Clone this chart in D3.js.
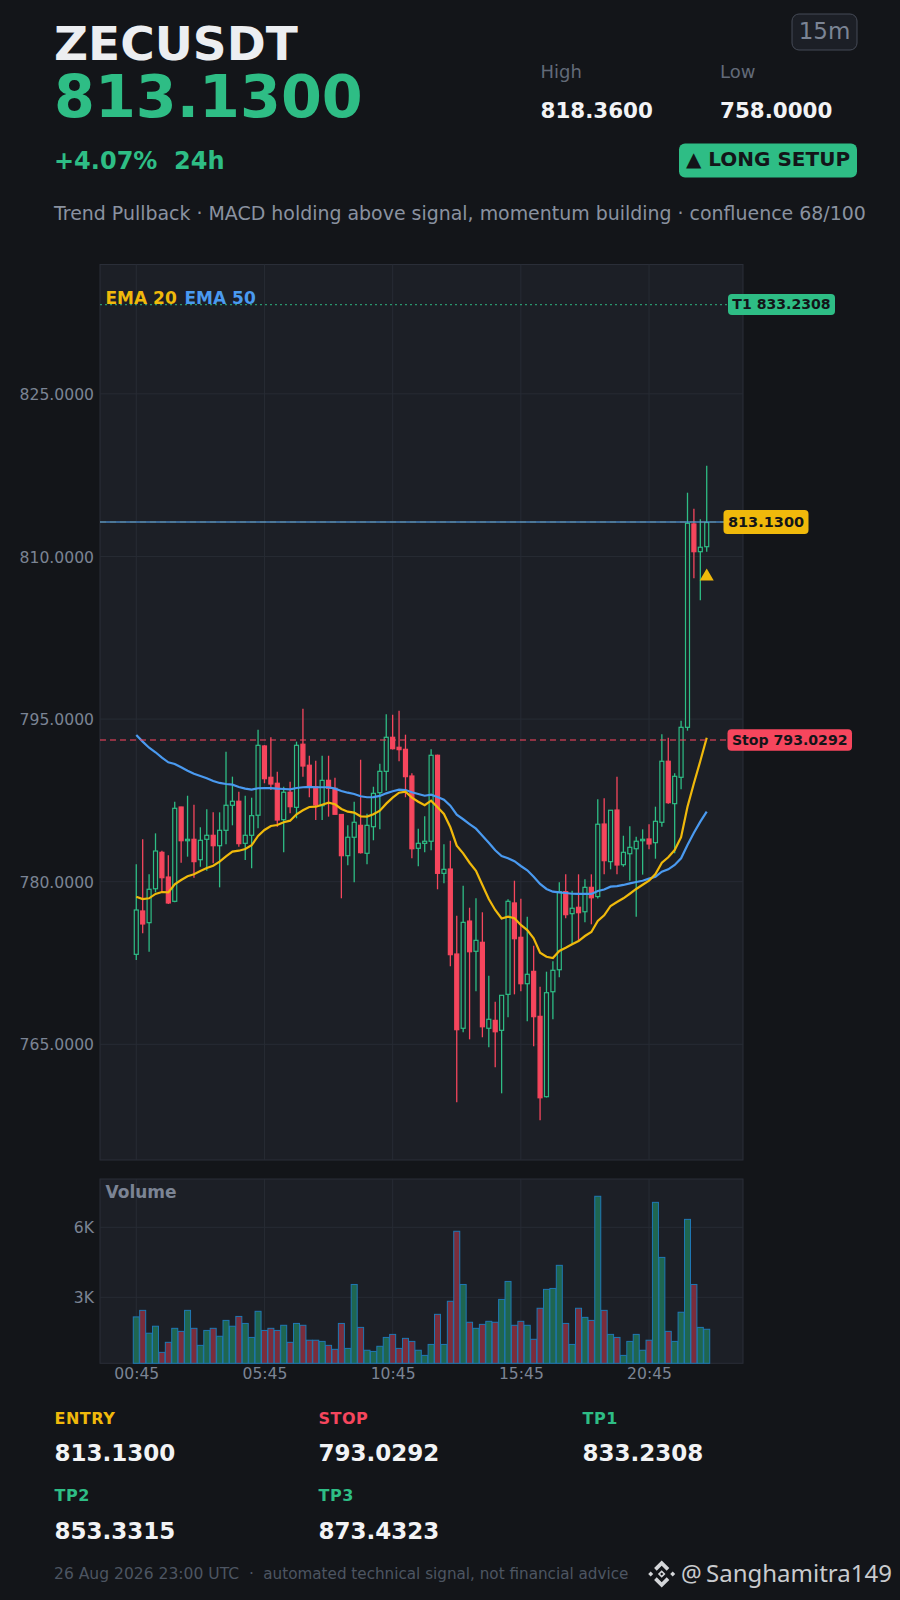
<!DOCTYPE html>
<html>
<head>
<meta charset="utf-8">
<script src="https://cdn.jsdelivr.net/npm/d3@7"></script>
<style>
html, body { margin: 0; padding: 0; background: #131519; }
svg { display: block; }
text { font-family: "DejaVu Sans", sans-serif; }
</style>
</head>
<body>
<svg id="chart" width="900" height="1600"></svg>
<script>
// OHLC of the 15m candles, oldest first
var opens = [773.30,777.30,776.22,779.35,782.71,780.43,778.19,786.89,783.78,783.91,
    782.03,783.91,784.28,783.32,784.74,787.05,787.42,783.54,784.28,786.13,
    792.52,789.63,789.08,785.72,788.25,786.86,792.68,790.74,788.76,787.01,
    789.35,788.62,786.20,782.40,784.10,785.20,782.62,785.07,788.21,790.18,
    793.32,792.40,792.21,789.75,783.08,783.54,783.73,791.66,780.77,781.17,
    773.33,766.48,776.37,773.58,774.41,766.48,767.21,766.29,769.61,778.04,
    774.87,770.59,771.73,767.58,760.17,769.85,771.88,779.08,777.05,777.64,
    777.23,779.48,778.63,785.32,781.85,786.61,781.57,782.58,783.04,783.78,
    783.94,783.60,785.48,791.11,787.20,789.63,794.24,813.00,810.44,810.90];
var highs = [781.61,783.91,780.68,784.46,782.86,782.44,787.38,786.92,787.93,787.10,
    785.02,786.68,786.40,786.40,791.99,789.69,788.30,787.93,787.75,794.02,
    792.60,793.32,790.15,788.76,789.23,792.92,795.96,791.62,791.16,791.62,
    791.62,789.59,786.22,785.20,787.38,791.25,786.27,788.76,790.89,795.44,
    795.41,795.77,793.56,790.00,784.89,786.03,792.21,791.72,783.45,783.78,
    776.86,779.63,777.60,778.47,777.18,771.33,768.93,769.55,778.38,780.09,
    778.43,776.77,774.10,770.31,771.70,772.66,779.94,780.68,779.17,780.68,
    780.22,780.68,787.60,787.69,786.61,789.69,784.24,785.11,784.15,784.83,
    785.30,786.92,793.60,793.28,790.00,794.85,815.88,814.41,813.43,818.36];
var lows = [772.78,775.24,773.54,779.02,779.08,777.94,778.10,781.75,782.31,780.37,
    781.38,781.01,781.70,779.48,783.45,785.20,783.23,782.00,781.24,784.93,
    789.08,788.46,785.07,782.71,786.31,785.85,789.69,787.79,785.69,785.69,
    786.00,786.20,778.47,781.51,779.94,782.60,781.61,783.82,784.83,788.39,
    792.20,791.11,787.79,782.16,781.42,782.71,782.90,779.30,779.85,772.20,
    759.65,766.11,765.46,769.89,765.65,764.72,762.88,760.48,767.49,769.61,
    769.89,767.12,764.82,758.00,760.10,767.31,771.18,776.62,774.16,774.62,
    776.25,776.07,778.45,780.68,781.14,780.68,781.38,780.09,776.77,780.65,
    782.99,782.12,785.07,787.20,782.62,788.52,793.93,807.99,805.96,810.44];
var closes = [777.39,776.10,779.30,782.83,780.37,778.04,786.77,783.78,783.91,781.85,
    783.82,784.28,783.32,784.74,787.05,787.42,783.51,784.28,786.09,792.58,
    789.50,789.01,785.69,788.25,786.92,792.58,790.67,788.76,787.08,789.35,
    788.62,786.22,782.40,784.10,785.48,782.68,785.20,788.15,790.18,793.32,
    792.27,792.18,789.69,783.04,783.54,783.73,791.66,780.77,781.14,773.27,
    766.35,776.25,773.54,774.59,766.62,767.31,766.16,769.52,778.19,774.74,
    770.59,771.46,767.55,760.07,769.76,771.83,779.08,776.96,777.55,777.14,
    779.48,778.52,785.30,781.94,786.59,781.54,782.71,783.17,783.73,783.91,
    783.48,785.57,791.11,787.29,789.72,794.24,813.06,810.44,810.85,813.13];
var volumes = [2160,2440,1460,1760,640,1070,1670,1540,2440,1670,
    940,1580,1670,1330,2010,1760,2180,1880,1280,2400,
    1580,1670,1580,1800,1070,1880,1800,1160,1160,1110,
    940,770,1880,810,3550,1710,730,680,900,1280,
    1410,810,1240,1110,730,510,980,2270,980,2830,
    5830,3550,1930,1670,1840,1970,1930,2910,3680,1800,
    1970,1800,1200,2530,3340,3380,4370,1880,980,2530,
    2140,2010,7330,2440,1410,1280,510,1110,1410,730,
    1160,7070,4710,1540,1110,2360,6340,3550,1710,1630];
var ema20 = [778.62,778.40,778.47,778.87,779.05,779.02,779.76,780.16,780.50,780.68,
    780.99,781.26,781.48,781.85,782.34,782.77,782.86,783.02,783.36,784.22,
    784.77,785.14,785.23,785.48,785.63,786.22,786.59,786.89,786.92,787.10,
    787.29,787.14,786.71,786.46,786.37,786.03,786.00,786.22,786.55,787.20,
    787.75,788.21,788.30,787.75,787.38,787.05,787.47,786.86,786.25,785.02,
    783.32,782.62,781.75,781.01,779.70,778.40,777.39,776.61,776.77,776.63,
    776.01,775.54,774.78,773.45,773.08,772.96,773.61,773.91,774.23,774.53,
    774.99,775.36,776.37,776.90,777.76,778.13,778.47,778.89,779.33,779.72,
    780.09,780.71,781.75,782.25,782.92,784.10,786.92,789.08,791.13,793.28];
var ema50 = [793.53,792.92,792.36,791.94,791.44,791.01,790.86,790.55,790.24,789.96,
    789.75,789.54,789.29,789.11,789.01,788.95,788.74,788.58,788.49,788.62,
    788.64,788.64,788.58,788.55,788.52,788.64,788.71,788.74,788.71,788.71,
    788.71,788.58,788.37,788.21,788.09,787.88,787.79,787.81,787.91,788.15,
    788.34,788.49,788.46,788.25,788.09,787.93,788.03,787.81,787.56,787.01,
    786.18,785.76,785.32,784.89,784.24,783.60,782.90,782.37,782.16,781.89,
    781.45,781.05,780.46,779.79,779.33,779.08,779.02,778.96,778.89,778.87,
    778.87,778.87,779.14,779.28,779.54,779.60,779.70,779.85,779.97,780.09,
    780.28,780.46,780.92,781.14,781.54,782.16,783.39,784.52,785.54,786.46];

var priceTicks = [765, 780, 795, 810, 825];
var volumeTicks = [3000, 6000];
var timeTickIndex = [0, 20, 40, 60, 80];
var timeTickLabels = ["00:45", "05:45", "10:45", "15:45", "20:45"];

var entry = 813.13;
var stop = 793.0292;
var tp1 = 833.2308;
var signalMarker = 808.15;

var levelRows = [
    { label: "ENTRY", value: "813.1300", color: "#f0b90b", col: 0, row: 0 },
    { label: "STOP", value: "793.0292", color: "#f6465d", col: 1, row: 0 },
    { label: "TP1", value: "833.2308", color: "#2ebd85", col: 2, row: 0 },
    { label: "TP2", value: "853.3315", color: "#2ebd85", col: 0, row: 1 },
    { label: "TP3", value: "873.4323", color: "#2ebd85", col: 1, row: 1 }
];

var panel = "#1c1f26", grid = "#272b34", border = "#2a2e38";
var green = "#2ebd85", red = "#f6465d", amber = "#f0b90b", blue = "#4a9af0";
var muted = "#7b8494", dark = "#131519", white = "#f2f3f5";

var svg = d3.select("#chart");

function label(g, x, y, str, size, color, weight, anchor) {
    return g.append("text")
        .attr("x", x)
        .attr("y", y)
        .attr("font-size", size)
        .attr("fill", color)
        .attr("font-weight", weight || "normal")
        .attr("text-anchor", anchor || "start")
        .text(str);
}

// Header
label(svg, 54, 60, "ZECUSDT", 47, "#eceef1", "bold");
label(svg, 54, 116.7, "813.1300", 58.8, green, "bold");
label(svg, 54, 169, "+4.07%\u00a0\u00a024h", 24, green, "bold");
label(svg, 540.5, 78, "High", 18, "#626a78");
label(svg, 720, 78, "Low", 18, "#626a78");
label(svg, 540.5, 118, "818.3600", 21.4, white, "bold");
label(svg, 720, 118, "758.0000", 21.4, white, "bold");

svg.append("rect").attr("x", 792).attr("y", 14).attr("width", 65).attr("height", 36).attr("rx", 7)
    .attr("fill", panel).attr("stroke", "#454a56");
label(svg, 824.5, 38.5, "15m", 23, muted, "normal", "middle");

svg.append("rect").attr("x", 679).attr("y", 143.5).attr("width", 178).attr("height", 34).attr("rx", 6)
    .attr("fill", green);
label(svg, 768, 166, "\u25b2 LONG SETUP", 20, dark, "bold", "middle");

label(svg, 54, 219.5, "Trend Pullback \u00b7 MACD holding above signal, momentum building \u00b7 confluence 68/100", 18.95, "#8a92a0");

// Scales
var x = d3.scaleLinear().domain([-5.66, 94.66]).range([100, 743]);
var y = d3.scaleLinear().domain([754.33, 836.93]).range([1160, 264.5]);
var yVol = d3.scaleLinear().domain([171, 8071]).range([1363.3, 1179]);

var candles = d3.range(opens.length).map(function (i) {
    return { i: i, open: opens[i], high: highs[i], low: lows[i], close: closes[i], volume: volumes[i], up: closes[i] >= opens[i] };
});

// Price panel
var main = svg.append("g");
main.append("rect").attr("x", 100).attr("y", 264.5).attr("width", 643).attr("height", 895.5)
    .attr("fill", panel).attr("stroke", border);

main.selectAll(".gridY").data(priceTicks).enter().append("line")
    .attr("class", "gridY")
    .attr("x1", 100).attr("x2", 743)
    .attr("y1", function (d) { return y(d); }).attr("y2", function (d) { return y(d); })
    .attr("stroke", grid);
main.selectAll(".gridX").data(timeTickIndex).enter().append("line")
    .attr("class", "gridX")
    .attr("x1", function (d) { return x(d); }).attr("x2", function (d) { return x(d); })
    .attr("y1", 264.5).attr("y2", 1160)
    .attr("stroke", grid);

var yAxis = d3.axisLeft(y)
    .tickValues(priceTicks)
    .tickSize(0)
    .tickPadding(6)
    .tickFormat(function (d) { return d.toFixed(4); });
var yAxisG = main.append("g").attr("transform", "translate(100,0.6)").call(yAxis);
yAxisG.select(".domain").remove();
yAxisG.selectAll("text").attr("font-size", 15.6).style("fill", muted);

// Wicks, then bodies
main.selectAll(".wick").data(candles).enter().append("line")
    .attr("class", "wick")
    .attr("x1", function (d) { return x(d.i); }).attr("x2", function (d) { return x(d.i); })
    .attr("y1", function (d) { return y(d.high); }).attr("y2", function (d) { return y(d.low); })
    .attr("stroke", function (d) { return d.up ? green : red; })
    .attr("stroke-width", 1.3);
main.selectAll(".body").data(candles).enter().append("rect")
    .attr("class", "body")
    .attr("x", function (d) { return x(d.i) - 2; })
    .attr("width", 4)
    .attr("y", function (d) { return y(Math.max(d.open, d.close)); })
    .attr("height", function (d) { return Math.max(0.8, Math.abs(y(d.open) - y(d.close))); })
    .attr("fill", function (d) { return d.up ? panel : red; })
    .attr("stroke", function (d) { return d.up ? green : red; })
    .attr("stroke-width", 1.2);

// EMA lines
var emaLine = d3.line()
    .x(function (d, i) { return x(i); })
    .y(function (d) { return y(d); });
main.append("path").attr("d", emaLine(ema50)).attr("fill", "none").attr("stroke", blue).attr("stroke-width", 2.2);
main.append("path").attr("d", emaLine(ema20)).attr("fill", "none").attr("stroke", amber).attr("stroke-width", 2.2);

label(main, 105.5, 303.5, "EMA 20", 17, amber, "bold");
label(main, 184.5, 303.5, "EMA 50", 17, blue, "bold");

// Level lines
main.append("line").attr("x1", 100).attr("x2", 728).attr("y1", y(tp1)).attr("y2", y(tp1))
    .attr("stroke", green).attr("stroke-opacity", 0.75).attr("stroke-width", 1.3).attr("stroke-dasharray", "2,3");
main.append("line").attr("x1", 100).attr("x2", 727).attr("y1", y(stop) - 0.5).attr("y2", y(stop) - 0.5)
    .attr("stroke", red).attr("stroke-opacity", 0.7).attr("stroke-width", 1.5).attr("stroke-dasharray", "6,4");
main.append("line").attr("x1", 100).attr("x2", 724).attr("y1", y(entry) - 0.5).attr("y2", y(entry) - 0.5)
    .attr("stroke", amber).attr("stroke-opacity", 0.35).attr("stroke-width", 1.5).attr("stroke-dasharray", "6,4");
main.append("line").attr("x1", 100).attr("x2", 724).attr("y1", y(entry) - 0.5).attr("y2", y(entry) - 0.5)
    .attr("stroke", "#4a90d9").attr("stroke-opacity", 0.85).attr("stroke-width", 1.5);

function badge(x0, x1, yc, h, fill, str, size) {
    main.append("rect").attr("x", x0).attr("y", yc - h / 2).attr("width", x1 - x0).attr("height", h).attr("rx", 4)
        .attr("fill", fill);
    label(main, (x0 + x1) / 2, yc + 4.7, str, size, dark, "bold", "middle");
}
badge(728, 835, y(tp1) - 0.2, 21, green, "T1 833.2308", 14.1);
badge(723.5, 808.5, y(entry) - 0.5, 24, amber, "813.1300", 14.5);
badge(727.5, 852, y(stop) - 0.5, 21.5, red, "Stop 793.0292", 14.1);

main.append("path")
    .attr("d", d3.symbol().type(d3.symbolTriangle).size(85)())
    .attr("transform", "translate(" + x(89) + "," + y(signalMarker) + ")")
    .attr("fill", amber);

// Volume panel
var vol = svg.append("g");
vol.append("rect").attr("x", 100).attr("y", 1179).attr("width", 643).attr("height", 184.3)
    .attr("fill", panel).attr("stroke", border);
vol.selectAll(".gridVolY").data(volumeTicks).enter().append("line")
    .attr("class", "gridVolY")
    .attr("x1", 100).attr("x2", 743)
    .attr("y1", function (d) { return yVol(d); }).attr("y2", function (d) { return yVol(d); })
    .attr("stroke", grid);
vol.selectAll(".gridVolX").data(timeTickIndex).enter().append("line")
    .attr("class", "gridVolX")
    .attr("x1", function (d) { return x(d); }).attr("x2", function (d) { return x(d); })
    .attr("y1", 1179).attr("y2", 1363.3)
    .attr("stroke", grid);

vol.selectAll(".volBar").data(candles).enter().append("rect")
    .attr("class", "volBar")
    .attr("x", function (d) { return x(d.i) - 3; })
    .attr("width", 6)
    .attr("y", function (d) { return yVol(d.volume); })
    .attr("height", function (d) { return yVol.range()[0] - yVol(d.volume); })
    .attr("fill", function (d) { return d.up ? "#1f6650" : "#7a2d3c"; })
    .attr("stroke", "#1f78b4")
    .attr("stroke-width", 1);

var volAxis = d3.axisLeft(yVol)
    .tickValues(volumeTicks)
    .tickSize(0)
    .tickPadding(6)
    .tickFormat(function (d) { return (d / 1000) + "K"; });
var volAxisG = vol.append("g").attr("transform", "translate(100,0)").call(volAxis);
volAxisG.select(".domain").remove();
volAxisG.selectAll("text").attr("font-size", 15.6).style("fill", muted);

var timeAxis = d3.axisBottom(x)
    .tickValues(timeTickIndex)
    .tickSize(0)
    .tickPadding(5)
    .tickFormat(function (d, i) { return timeTickLabels[i]; });
var timeAxisG = vol.append("g").attr("transform", "translate(0,1363.3)").call(timeAxis);
timeAxisG.select(".domain").remove();
timeAxisG.selectAll("text").attr("font-size", 15.6).style("fill", muted);

label(vol, 105.5, 1197.5, "Volume", 17, muted, "bold");

// Trade levels at the bottom
var colX = [54.5, 318.5, 582.5];
var rowY = [1423.8, 1501];
levelRows.forEach(function (d) {
    label(svg, colX[d.col], rowY[d.row], d.label, 16, d.color, "bold").attr("letter-spacing", 0.5);
    label(svg, colX[d.col], rowY[d.row] + 37.5, d.value, 23, white, "bold");
});

// Footer
label(svg, 54, 1579, "26 Aug 2026 23:00 UTC\u00a0\u00a0\u00b7", 15.55, "#4d5562");
label(svg, 263.3, 1579, "automated technical signal, not financial advice", 15.2, "#4d5562");

// Watermark
var logo = svg.append("g").attr("transform", "translate(661.7,1574)").attr("fill", "#d4d6d9");
logo.append("path").attr("d", "M0,-3.8L3.8,0L0,3.8L-3.8,0Z M0,-1.6L-1.6,0L0,1.6L1.6,0Z").attr("fill-rule", "evenodd");
logo.append("path").attr("d", "M-13.5,0L-11,-2.5L-8.5,0L-11,2.5Z");
logo.append("path").attr("d", "M13.5,0L11,-2.5L8.5,0L11,2.5Z");
logo.append("path").attr("d", "M0,-13.5L7.6,-5.9L5,-3.3L0,-8.3L-5,-3.3L-7.6,-5.9Z");
logo.append("path").attr("d", "M0,13.5L7.6,5.9L5,3.3L0,8.3L-5,3.3L-7.6,5.9Z");
label(svg, 681, 1582, "@", 23, "#c9cbce").style("font-family", "'Noto Sans'");
label(svg, 706, 1582, "Sanghamitra149", 24, "#c9cbce").style("font-family", "'Noto Sans'");
</script>
</body>
</html>
